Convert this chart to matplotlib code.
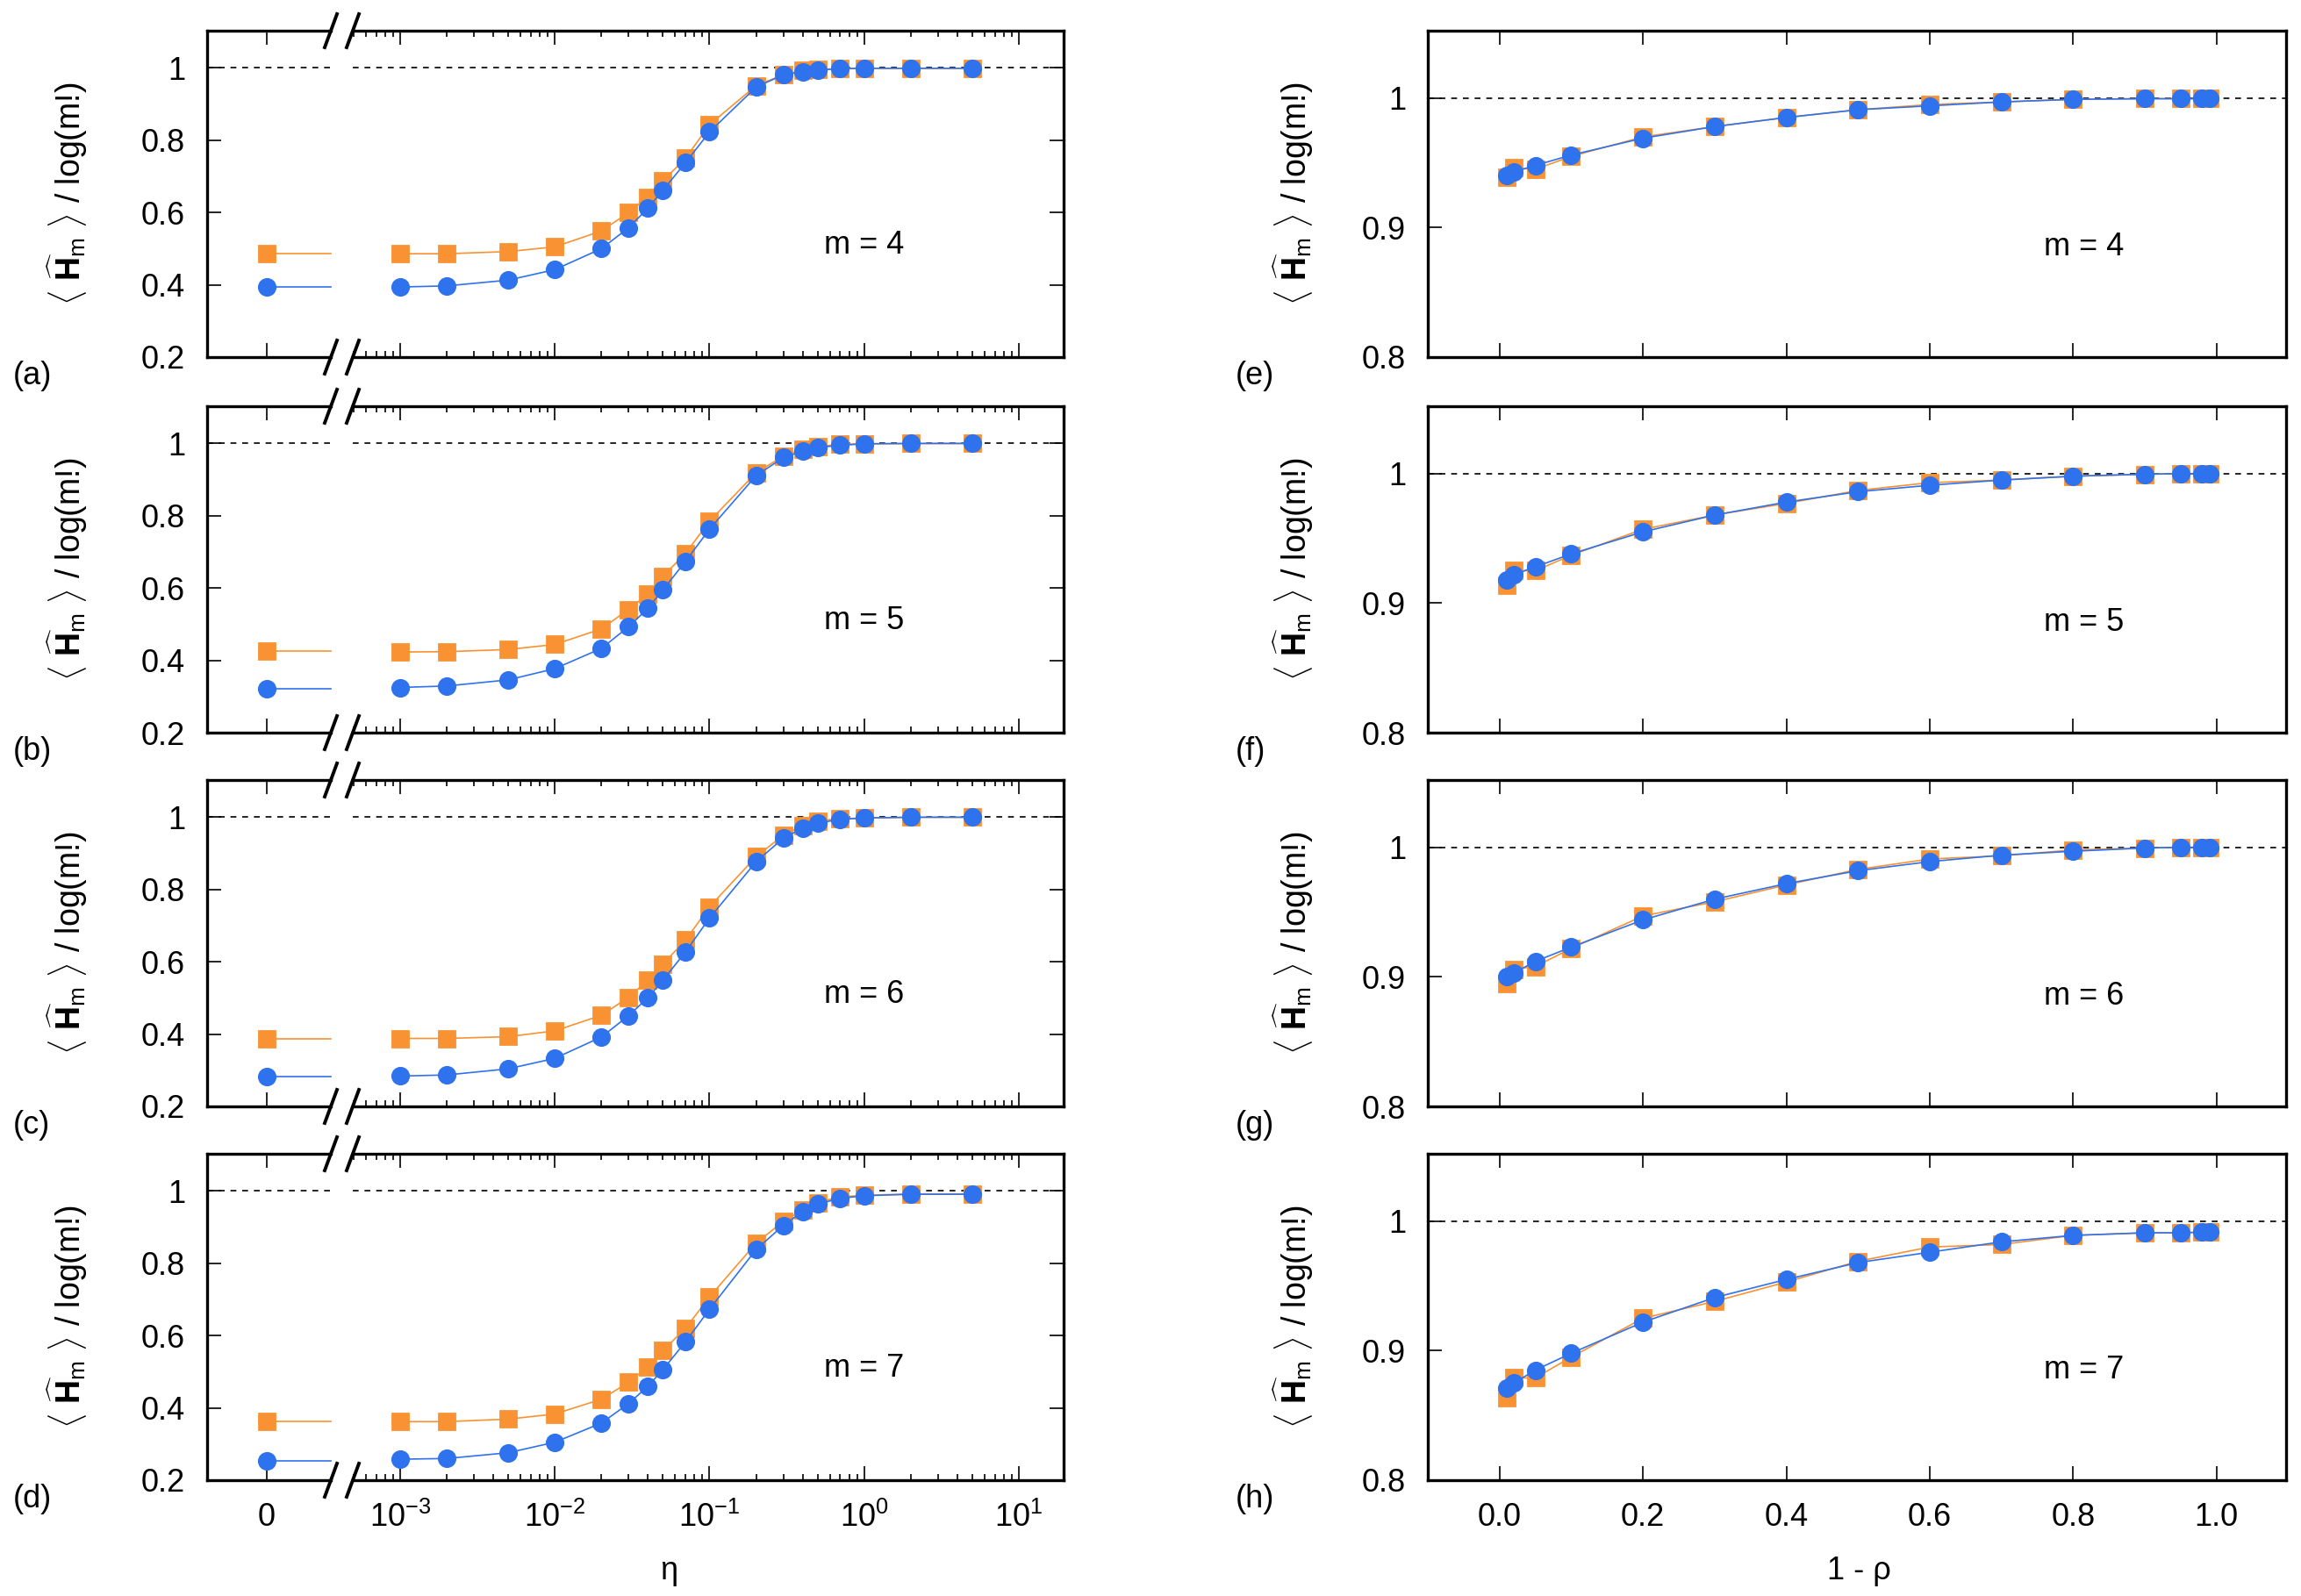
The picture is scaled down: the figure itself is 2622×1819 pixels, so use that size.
import numpy as np
import matplotlib
matplotlib.use("Agg")
import matplotlib.pyplot as plt
from matplotlib.lines import Line2D

plt.rcParams['font.family'] = ['Liberation Sans', 'DejaVu Sans']
plt.rcParams['mathtext.fontset'] = 'custom'
plt.rcParams['mathtext.rm'] = 'Liberation Sans'
plt.rcParams['mathtext.it'] = 'Liberation Sans:italic'
plt.rcParams['mathtext.bf'] = 'Liberation Sans:bold'

ORANGE = '#F99232'
BLUE = '#2F72EE'

# ---- data ----
m_values = [4, 5, 6, 7]
panel_left = ['(a)', '(b)', '(c)', '(d)']
panel_right = ['(e)', '(f)', '(g)', '(h)']

eta = [1e-3, 2e-3, 5e-3, 1e-2, 2e-2, 3e-2, 4e-2, 5e-2, 7e-2,
       0.1, 0.2, 0.3, 0.4, 0.5, 0.7, 1, 2, 5]

# value at eta = 0 (left, broken part of the axis)
eta0_orange = [0.486, 0.425, 0.388, 0.362]
eta0_blue = [0.393, 0.321, 0.282, 0.254]

eta_orange = [
    [0.486, 0.486, 0.492, 0.505, 0.549, 0.600, 0.643, 0.688, 0.750,
     0.843, 0.951, 0.981, 0.993, 0.996, 0.998, 0.999, 0.999, 0.999],
    [0.423, 0.424, 0.430, 0.444, 0.487, 0.541, 0.584, 0.633, 0.696,
     0.785, 0.919, 0.965, 0.984, 0.991, 0.998, 0.999, 1.000, 1.000],
    [0.388, 0.388, 0.393, 0.409, 0.452, 0.502, 0.549, 0.594, 0.660,
     0.752, 0.891, 0.950, 0.977, 0.990, 0.996, 0.998, 1.000, 1.000],
    [0.362, 0.362, 0.369, 0.383, 0.424, 0.471, 0.513, 0.559, 0.620,
     0.707, 0.856, 0.916, 0.947, 0.968, 0.984, 0.988, 0.992, 0.992],
]
eta_blue = [
    [0.394, 0.397, 0.413, 0.442, 0.500, 0.558, 0.612, 0.662, 0.738,
     0.823, 0.947, 0.981, 0.990, 0.994, 0.998, 0.999, 0.999, 0.999],
    [0.325, 0.329, 0.346, 0.377, 0.433, 0.493, 0.544, 0.595, 0.674,
     0.763, 0.911, 0.961, 0.979, 0.989, 0.995, 0.999, 1.000, 1.000],
    [0.284, 0.287, 0.304, 0.333, 0.392, 0.451, 0.501, 0.549, 0.628,
     0.721, 0.877, 0.942, 0.970, 0.984, 0.994, 0.998, 1.000, 1.000],
    [0.258, 0.260, 0.276, 0.305, 0.358, 0.412, 0.460, 0.506, 0.583,
     0.673, 0.838, 0.905, 0.943, 0.964, 0.980, 0.987, 0.991, 0.991],
]

rho = [0.01, 0.02, 0.05, 0.1, 0.2, 0.3, 0.4, 0.5, 0.6, 0.7, 0.8, 0.9,
       0.95, 0.98, 0.99]
rho_orange = [
    [0.939, 0.946, 0.945, 0.955, 0.970, 0.978, 0.985, 0.991, 0.995,
     0.997, 0.999, 0.9995, 0.9995, 0.9995, 0.9995],
    [0.914, 0.925, 0.925, 0.937, 0.957, 0.968, 0.977, 0.987, 0.993,
     0.995, 0.998, 0.9995, 1.000, 1.000, 1.000],
    [0.895, 0.906, 0.908, 0.922, 0.947, 0.958, 0.971, 0.983, 0.991,
     0.9935, 0.998, 0.9995, 1.000, 1.000, 1.000],
    [0.864, 0.879, 0.879, 0.895, 0.925, 0.938, 0.953, 0.969, 0.980,
     0.982, 0.989, 0.991, 0.991, 0.9915, 0.9915],
]
rho_blue = [
    [0.940, 0.943, 0.948, 0.956, 0.969, 0.978, 0.985, 0.991, 0.994,
     0.997, 0.999, 0.9995, 0.9995, 0.9995, 0.9995],
    [0.918, 0.922, 0.928, 0.938, 0.955, 0.968, 0.978, 0.986, 0.991,
     0.995, 0.998, 0.9995, 1.000, 1.000, 1.000],
    [0.900, 0.903, 0.912, 0.923, 0.944, 0.960, 0.972, 0.982, 0.989,
     0.994, 0.997, 0.9995, 1.000, 1.000, 1.000],
    [0.871, 0.875, 0.885, 0.898, 0.922, 0.941, 0.955, 0.968, 0.976,
     0.984, 0.989, 0.991, 0.991, 0.9915, 0.9915],
]

# ---- layout (pixels of the 2622x1819 picture) ----
W, H = 2622, 1819
fig = plt.figure(figsize=(W / 200, H / 200), dpi=200)

seg_x = (236, 377)     # eta = 0 part
log_x = (402, 1212)    # log part
rgt_x = (1627, 2605)
row_bottom = [407, 835, 1261, 1687]
row_h = 372

ylab = r'$\langle\ \widehat{\mathbf{H}}_{\mathrm{m}}\ \rangle$ / log(m!)'
FS = 13
LW_SPINE = 1.2
MS_SQ, MS_CI = 6.2, 6.6
LW = 0.6


def fax(x0, x1, yb):
    return [x0 / W, 1 - yb / H, (x1 - x0) / W, row_h / H]


def style_spines(ax):
    for s in ax.spines.values():
        s.set_linewidth(LW_SPINE)


def break_marks(xc, yb):
    for y in (yb, yb - row_h):
        l = Line2D([(xc - 7) / W, (xc + 7) / W],
                   [1 - (y + 19) / H, 1 - (y - 19) / H],
                   transform=fig.transFigure, color='black', lw=1.4)
        fig.add_artist(l)


for i, m in enumerate(m_values):
    yb = row_bottom[i]
    last = (i == len(m_values) - 1)

    # ----- left column: broken eta axis -----
    ax0 = fig.add_axes(fax(seg_x[0], seg_x[1], yb))
    ax1 = fig.add_axes(fax(log_x[0], log_x[1], yb))
    for ax in (ax0, ax1):
        ax.set_ylim(0.2, 1.103)
        ax.axhline(1, color='black', lw=0.6, ls=(0, (4, 4)), zorder=1)
        style_spines(ax)

    xr = 1.07
    ax0.set_xlim(-1, xr)
    ax0.plot([0, xr], [eta0_orange[i]] * 2, color=ORANGE, lw=LW,
             marker='s', ms=MS_SQ, markevery=[0], clip_on=False, zorder=3)
    ax0.plot([0, xr], [eta0_blue[i]] * 2, color=BLUE, lw=LW,
             marker='o', ms=MS_CI, markevery=[0], clip_on=False, zorder=4)
    ax0.spines['right'].set_visible(False)
    ax0.set_xticks([0])
    ax0.set_xticklabels(['0'] if last else [''])
    ax0.tick_params(axis='x', which='both', direction='in', top=True,
                    bottom=True, length=5.8, width=0.6, labelsize=FS, pad=9)
    ax0.set_yticks([0.2, 0.4, 0.6, 0.8, 1])
    ax0.set_yticklabels(['0.2', '0.4', '0.6', '0.8', '1'])
    ax0.tick_params(axis='y', direction='in', left=True, right=False,
                    length=5.8, width=0.6, labelsize=FS, pad=9)

    ax1.set_xscale('log')
    ax1.set_xlim(10 ** -3.306, 10 ** 1.289)
    ax1.plot(eta, eta_orange[i], color=ORANGE, lw=LW, marker='s',
             ms=MS_SQ, zorder=3)
    ax1.plot(eta, eta_blue[i], color=BLUE, lw=LW, marker='o',
             ms=MS_CI, zorder=4)
    ax1.spines['left'].set_visible(False)
    ax1.set_xticks([1e-3, 1e-2, 1e-1, 1, 10])
    if last:
        ax1.set_xticklabels([r'$10^{-3}$', r'$10^{-2}$', r'$10^{-1}$',
                             r'$10^{0}$', r'$10^{1}$'])
    else:
        ax1.set_xticklabels([])
    ax1.xaxis.set_minor_locator(matplotlib.ticker.LogLocator(
        base=10, subs=np.arange(2, 10), numticks=20))
    ax1.xaxis.set_minor_formatter(matplotlib.ticker.NullFormatter())
    ax1.tick_params(axis='x', which='major', direction='in', top=True,
                    bottom=True, length=5.8, width=0.6, labelsize=FS, pad=9)
    ax1.tick_params(axis='x', which='minor', direction='in', top=True,
                    bottom=True, length=2.6, width=0.6)
    ax1.set_yticks([0.2, 0.4, 0.6, 0.8, 1])
    ax1.tick_params(axis='y', direction='in', left=False, right=True,
                    labelleft=False, length=5.8, width=0.6)
    ax1.text(1.0, 0.51, 'm = %d' % m, ha='center', va='center', fontsize=13)

    break_marks(seg_x[1], yb)
    break_marks(log_x[0], yb)

    fig.text(77 / W, 1 - (yb - row_h / 2) / H, ylab, rotation=90,
             ha='center', va='center', fontsize=13.5)
    fig.text(15 / W, 1 - (yb + 21) / H, panel_left[i], ha='left',
             va='center', fontsize=FS)

    # ----- right column: 1 - rho -----
    ax2 = fig.add_axes(fax(rgt_x[0], rgt_x[1], yb))
    style_spines(ax2)
    ax2.set_xlim(-0.1, 1.097)
    ax2.set_ylim(0.8, 1.052)
    ax2.axhline(1, color='black', lw=0.6, ls=(0, (4, 4)), zorder=1)
    ax2.plot(rho, rho_orange[i], color=ORANGE, lw=LW, marker='s',
             ms=MS_SQ, zorder=3)
    ax2.plot(rho, rho_blue[i], color=BLUE, lw=LW, marker='o',
             ms=MS_CI, zorder=4)
    ax2.set_xticks([0, 0.2, 0.4, 0.6, 0.8, 1.0])
    if last:
        ax2.set_xticklabels(['0.0', '0.2', '0.4', '0.6', '0.8', '1.0'])
    else:
        ax2.set_xticklabels([])
    ax2.tick_params(axis='x', direction='in', top=True, bottom=True,
                    length=5.8, width=0.6, labelsize=FS, pad=9)
    ax2.set_yticks([0.8, 0.9, 1])
    ax2.set_yticklabels(['0.8', '0.9', '1'])
    ax2.tick_params(axis='y', direction='in', left=True, right=False,
                    length=5.8, width=0.6, labelsize=FS, pad=9)
    ax2.text(0.815, 0.885, 'm = %d' % m, ha='center', va='center',
             fontsize=13)

    fig.text(1474 / W, 1 - (yb - row_h / 2) / H, ylab, rotation=90,
             ha='center', va='center', fontsize=13.5)
    fig.text(1408 / W, 1 - (yb + 21) / H, panel_right[i], ha='left',
             va='center', fontsize=FS)

fig.text(762 / W, 1 - 1790 / H, 'η', ha='center', va='center', fontsize=FS)
fig.text(2118 / W, 1 - 1790 / H, '1 - ρ', ha='center', va='center',
         fontsize=FS)

fig.savefig('out.png', dpi=200)
